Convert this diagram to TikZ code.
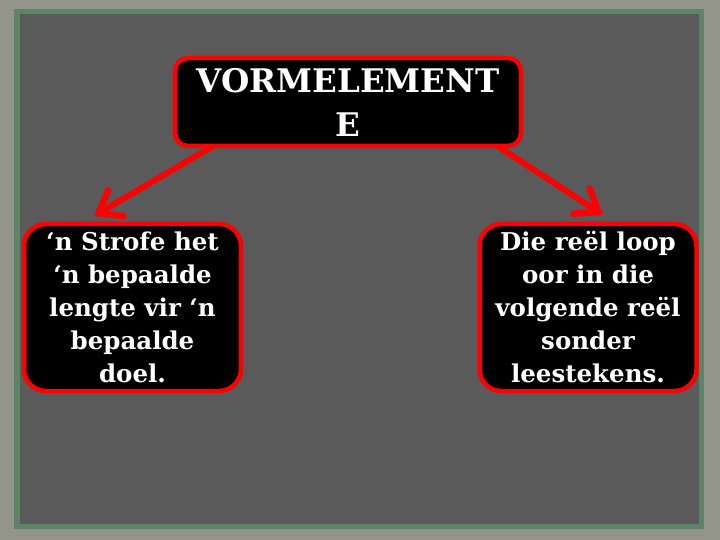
\documentclass[tikz,border=0pt]{standalone}
\usepackage{fontspec}
\setmainfont{DejaVu Serif}
\usetikzlibrary{arrows.meta}
\definecolor{outerbg}{HTML}{93948A}
\definecolor{framegreen}{HTML}{5E8466}
\definecolor{innergray}{HTML}{5A5A5A}
\definecolor{boxred}{HTML}{FF0000}
\tikzset{
  topbox/.style={draw=boxred, line width=4.5pt, fill=black, rounded corners=13pt,
    minimum width=346pt, minimum height=88pt, inner sep=0pt, text=white,
    align=center, font=\fontsize{32.5}{44}\selectfont\bfseries},
  subbox/.style={draw=boxred, line width=4.5pt, fill=black, rounded corners=22pt,
    minimum width=217pt, minimum height=167pt, inner sep=0pt, text=white,
    align=center, font=\fontsize{24.5}{33}\selectfont\bfseries},
  redarrow/.style={draw=boxred, line width=6pt, line cap=round,
    -{Straight Barb[length=20pt, width=30pt, line width=6.5pt, line cap=round]}}
}
\begin{document}
\begin{tikzpicture}[x=1pt,y=-1pt]
\useasboundingbox (0,0) rectangle (720,540);
\fill[outerbg] (0,0) rectangle (720,540);
\fill[framegreen] (14,9) rectangle (704,529);
\fill[innergray] (20,14) rectangle (699,524);
\coordinate (ls) at (213,146);
\coordinate (rs) at (499,147);
\coordinate (lt) at (94,216);
\coordinate (rt) at (603,215);
\draw[redarrow] (ls) -- (lt);
\draw[redarrow] (rs) -- (rt);
\node[topbox] (top) at (348,102) {VORMELEMENT\\E};
\node[subbox] (left) at (132.5,307.5) {‘n Strofe het\\‘n bepaalde\\lengte vir ‘n\\bepaalde\\doel.};
\node[subbox] (right) at (588,307.5) {Die reël loop\\oor in die\\volgende reël\\sonder\\leestekens.};
\end{tikzpicture}
\end{document}
